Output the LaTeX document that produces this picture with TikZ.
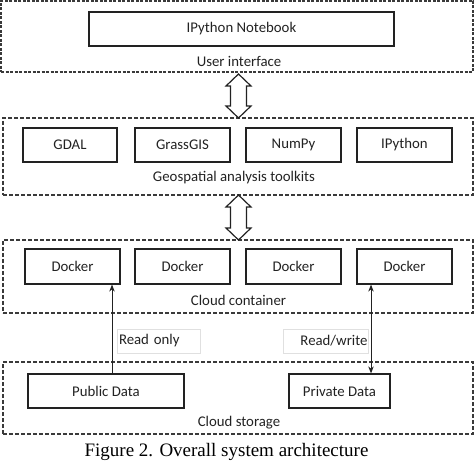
\documentclass[tikz,border=0pt]{standalone}
\usepackage{fontspec}
\setmainfont{Carlito}
\newfontfamily\capfont{Liberation Serif}
\usetikzlibrary{arrows.meta,calc}
\definecolor{ink}{HTML}{222222}
\definecolor{dashc}{HTML}{3A3A3A}
\begin{document}
\begin{tikzpicture}[x=1pt,y=1pt,
  every node/.style={font=\fontsize{14.8}{16}\selectfont, text=ink, inner sep=0pt},
  box/.style={draw=ink, line width=1.2pt, minimum height=34pt},
  layer/.style={draw=dashc, line width=1.2pt, dash pattern=on 4pt off 2pt},
  toplayer/.style={draw=dashc, line width=1.3pt, dash pattern=on 3pt off 1.5pt},
  lab/.style={draw=black!12, line width=0.8pt, minimum height=24pt},
  bigarrow/.style={draw=ink, line width=1.2pt, fill=white},
  thin/.style={draw=ink, line width=1pt},
  tip/.style={-{Stealth[length=7pt,width=5.5pt]}}
]
\useasboundingbox (0,0) rectangle (474,-468);
% layers
\node[toplayer, minimum width=472pt, minimum height=71pt] (ui) at (237,-36.5) {};
\node[layer, minimum width=470pt, minimum height=77pt] (geo) at (238,-156.5) {};
\node[layer, minimum width=470pt, minimum height=73pt] (cc) at (238,-276.5) {};
\node[layer, minimum width=470pt, minimum height=72pt] (cs) at (238,-398) {};
% layer labels
\node (uil) at (239,-61) {User interface};
\node (geol) at (234,-178) {Geospatial analysis toolkits};
\node (ccl) at (238.5,-300) {Cloud container};
\node (csl) at (239,-423) {Cloud storage};
% boxes
\node[box, minimum width=305pt] (nb) at (241.5,-29) {IPython Notebook};
\node[box, minimum width=94pt] (gdal) at (70,-145) {GDAL};
\node[box, minimum width=95pt] (grass) at (182.5,-145) {GrassGIS};
\node[box, minimum width=95pt] (numpy) at (293.5,-145) {NumPy};
\node[box, minimum width=95pt] (ipy) at (404.5,-145) {IPython};
\node[box, minimum width=95pt, minimum height=35pt] (d1) at (72.5,-266.5) {Docker};
\node[box, minimum width=95pt, minimum height=35pt] (d2) at (182.5,-266.5) {Docker};
\node[box, minimum width=95pt, minimum height=35pt] (d3) at (293.5,-266.5) {Docker};
\node[box, minimum width=95pt, minimum height=35pt] (d4) at (404.5,-266.5) {Docker};
\node[box, minimum width=156pt] (pub) at (106,-391) {Public Data};
\node[box, minimum width=101pt] (priv) at (339.5,-391) {Private Data};
% read labels
\node[lab, minimum width=83pt, text width=81pt, align=left] (ro) at (158.5,-341) {\hspace*{1pt}Read only};
\node[lab, minimum width=85pt, text width=84pt, align=right] (rw) at (325.5,-341) {Read/write};
% big double arrows
\coordinate (a1) at (238.5,-74);
\coordinate (a2) at (238.5,-195);
\draw[bigarrow, shift={(a1)}] (0,0) -- (12.5,-12) -- (8,-12) -- (8,-32) -- (12.5,-32) -- (0,-44)
  -- (-12.5,-32) -- (-8,-32) -- (-8,-12) -- (-12.5,-12) -- cycle;
\draw[bigarrow, shift={(a2)}] (0,0) -- (12.5,-12) -- (8,-12) -- (8,-33) -- (12.5,-33) -- (0,-45)
  -- (-12.5,-33) -- (-8,-33) -- (-8,-12) -- (-12.5,-12) -- cycle;
% data arrows
\coordinate (xl) at (112,0);
\coordinate (xr) at (371,0);
\draw[thin, tip] (pub.north -| xl) -- (d1.south -| xl);
\draw[thin, {Stealth[length=7pt,width=5.5pt]}-{Stealth[length=7pt,width=5.5pt]}] (d4.south -| xr) -- (priv.north -| xr);
% caption
\node[font=\capfont\fontsize{19}{21}\selectfont, anchor=base, text=black] (cap) at (226.5,-456) {Figure 2. Overall system architecture};
\end{tikzpicture}
\end{document}
